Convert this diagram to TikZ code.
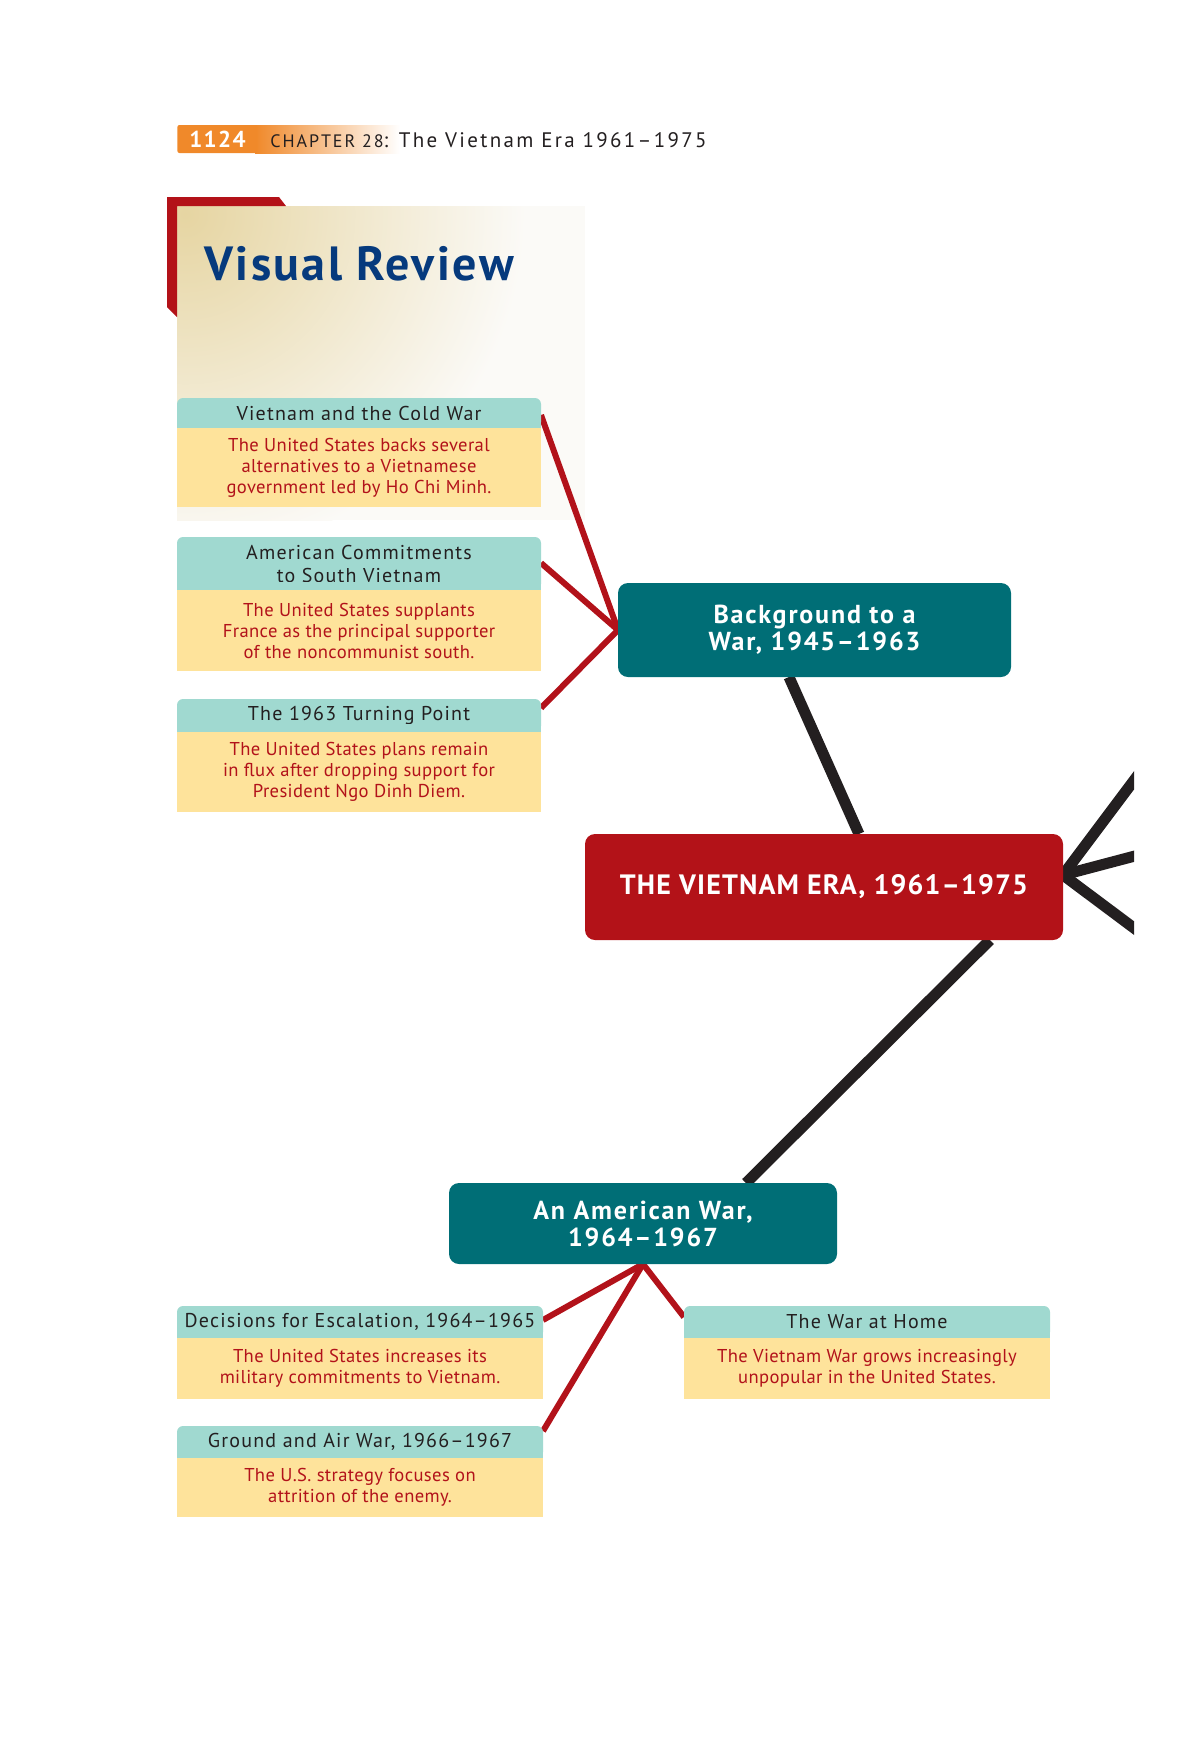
\documentclass[tikz,border=0pt]{standalone}
\usepackage{fontspec}
\setmainfont{PT Sans}
\usepackage{xcolor}
\usetikzlibrary{positioning,calc,backgrounds}

\definecolor{tealbox}{HTML}{006E76}
\definecolor{tealhead}{HTML}{A0D9D0}
\definecolor{yellowbody}{HTML}{FEE39B}
\definecolor{redtext}{HTML}{B2121A}
\definecolor{redbox}{HTML}{B31218}
\definecolor{darkline}{HTML}{231F20}
\definecolor{navy}{HTML}{063A7D}
\definecolor{orangebar}{HTML}{F0892A}
\definecolor{tan}{HTML}{E6D5A2}
\definecolor{panelbg}{HTML}{FBFAF7}

\begin{document}
\begin{tikzpicture}[x=0.5pt, y=-0.5pt,
    headbox/.style={fill=tealhead, rounded corners=3pt, minimum width=182pt, inner sep=0pt, outer sep=0pt,
        align=center, text=darkline, font=\addfontfeatures{LetterSpace=6}\fontsize{10}{11.5}\selectfont},
    bodybox/.style={fill=yellowbody, minimum width=182pt, inner sep=0pt, outer sep=0pt,
        align=center, text=redtext, font=\addfontfeatures{LetterSpace=2}\fontsize{9.3}{10.5}\selectfont},
    topic/.style={fill=tealbox, rounded corners=5pt, inner sep=0pt, outer sep=0pt,
        align=center, text=white, font=\bfseries\addfontfeatures{LetterSpace=7}\fontsize{13}{13.5}\selectfont},
    redlink/.style={draw=redtext, line width=3pt},
    blacklink/.style={draw=darkline, line width=5.5pt}]
    \useasboundingbox (0,0) rectangle (1200,1753);

    %intestazione
    \shade[left color=orangebar, right color=white] (255,125) rectangle (400,153);
    \node[fill=orangebar, rounded corners=1pt, minimum width=40pt, minimum height=14pt, inner sep=0pt,
        anchor=west, text=white, font=\bfseries\addfontfeatures{LetterSpace=6}\fontsize{11.5}{12}\selectfont] (pagenum) at (177,139) {1124};
    \node[anchor=west, inner sep=0pt, text=darkline, font=\addfontfeatures{LetterSpace=11}\fontsize{10.5}{12}\selectfont]
        (chapter) at (270,140) {{\fontsize{9}{12}\selectfont CHAPTER 28}: The Vietnam Era 1961–1975};

    %riquadro titolo
    \begin{scope}[on background layer]
      \fill[panelbg] (177,206) rectangle (585,520);
      \begin{scope}
        \clip (177,206) rectangle (585,520);
        \shade[inner color=tan, outer color=panelbg] (185,214) circle (170pt);
      \end{scope}
    \end{scope}
    \fill[redbox] (167,197) -- (279,197) -- (286,206) -- (177,206) -- (177,317) -- (167,307) -- cycle;
    \node[anchor=base west, inner sep=0pt, text=navy, font=\bfseries\addfontfeatures{LetterSpace=5}\fontsize{24}{26}\selectfont] (title) at (204,280) {Visual Review};

    %riquadri a sinistra
    \node[headbox, minimum height=15pt, anchor=north west] (hcold) at (177,398) {Vietnam and the Cold War};
    \node[bodybox, minimum height=39.5pt, below=0pt of hcold] (bcold) {The United States backs several\\ alternatives to a Vietnamese\\ government led by Ho Chi Minh.};
    \node[headbox, minimum height=26.5pt, anchor=north west] (hcommit) at (177,537) {American Commitments\\ to South Vietnam};
    \node[bodybox, minimum height=40.5pt, below=0pt of hcommit] (bcommit) {The United States supplants\\ France as the principal supporter\\ of the noncommunist south.};
    \node[headbox, minimum height=16.5pt, anchor=north west] (hturn) at (177,699) {The 1963 Turning Point};
    \node[bodybox, minimum height=40pt, below=0pt of hturn] (bturn) {The United States plans remain\\ in flux after dropping support for\\ President Ngo Dinh Diem.};

    %riquadri in basso
    \node[headbox, minimum width=183pt, minimum height=16pt, anchor=north west] (hescal) at (177,1306) {Decisions for Escalation, 1964–1965};
    \node[bodybox, minimum width=183pt, minimum height=30.5pt, below=0pt of hescal] (bescal) {The United States increases its\\ military commitments to Vietnam.};
    \node[headbox, minimum width=183pt, minimum height=16pt, anchor=north west] (hground) at (177,1426) {Ground and Air War, 1966–1967};
    \node[bodybox, minimum width=183pt, minimum height=29.5pt, below=0pt of hground] (bground) {The U.S. strategy focuses on\\ attrition of the enemy.};
    \node[headbox, minimum width=183pt, minimum height=16pt, anchor=north west] (hhome) at (684,1306) {The War at Home};
    \node[bodybox, minimum width=183pt, minimum height=30.5pt, below=0pt of hhome] (bhome) {The Vietnam War grows increasingly\\ unpopular in the United States.};

    %angoli inferiori delle testate
    \foreach \h in {hcold,hcommit,hturn,hescal,hground,hhome}
      \fill[tealhead] ([yshift=4pt]\h.south west) rectangle (\h.south east);

    %riquadri centrali
    \node[topic, minimum width=196.5pt, minimum height=47pt] (background) at (814.5,630) {Background to a\\ War, 1945–1963};
    \node[fill=redbox, rounded corners=5pt, inner sep=0pt, outer sep=0pt, minimum width=239pt, minimum height=53pt,
        text=white, font=\bfseries\addfontfeatures{LetterSpace=4}\fontsize{14}{16}\selectfont] (era) at (824,887) {THE VIETNAM ERA, 1961–1975};
    \node[topic, minimum width=194pt, minimum height=40.5pt] (american) at (643,1223.5) {An American War,\\ 1964–1967};

    %collegamenti
    \coordinate (out1) at (1150,759);
    \coordinate (out2) at (1150,852);
    \coordinate (out3) at (1150,940);
    \begin{scope}[on background layer]
      \draw[redlink] ([yshift=-8.5pt]hcold.north east) -- (background.west);
      \draw[redlink] ([yshift=-13pt]hcommit.north east) -- (background.west);
      \draw[redlink] ([yshift=-4.5pt]hturn.north east) -- (background.west);
      \draw[blacklink] ([xshift=-12.75pt]background.south) -- ([xshift=17.5pt]era.north);
      \draw[blacklink] ([xshift=83pt]era.south) -- ([xshift=51.5pt]american.north);
      \draw[redlink] (american.south) -- ([yshift=-7pt]hescal.north east);
      \draw[redlink] (american.south) -- ([yshift=-2.5pt]hground.north east);
      \draw[redlink] (american.south) -- ([yshift=-5.5pt]hhome.north west);
      \begin{scope}
        \clip (0,0) rectangle (1134,1753);
        \foreach \o in {out1,out2,out3}
          \draw[blacklink] ([yshift=6pt]era.east) -- (\o);
      \end{scope}
    \end{scope}
\end{tikzpicture}
\end{document}
